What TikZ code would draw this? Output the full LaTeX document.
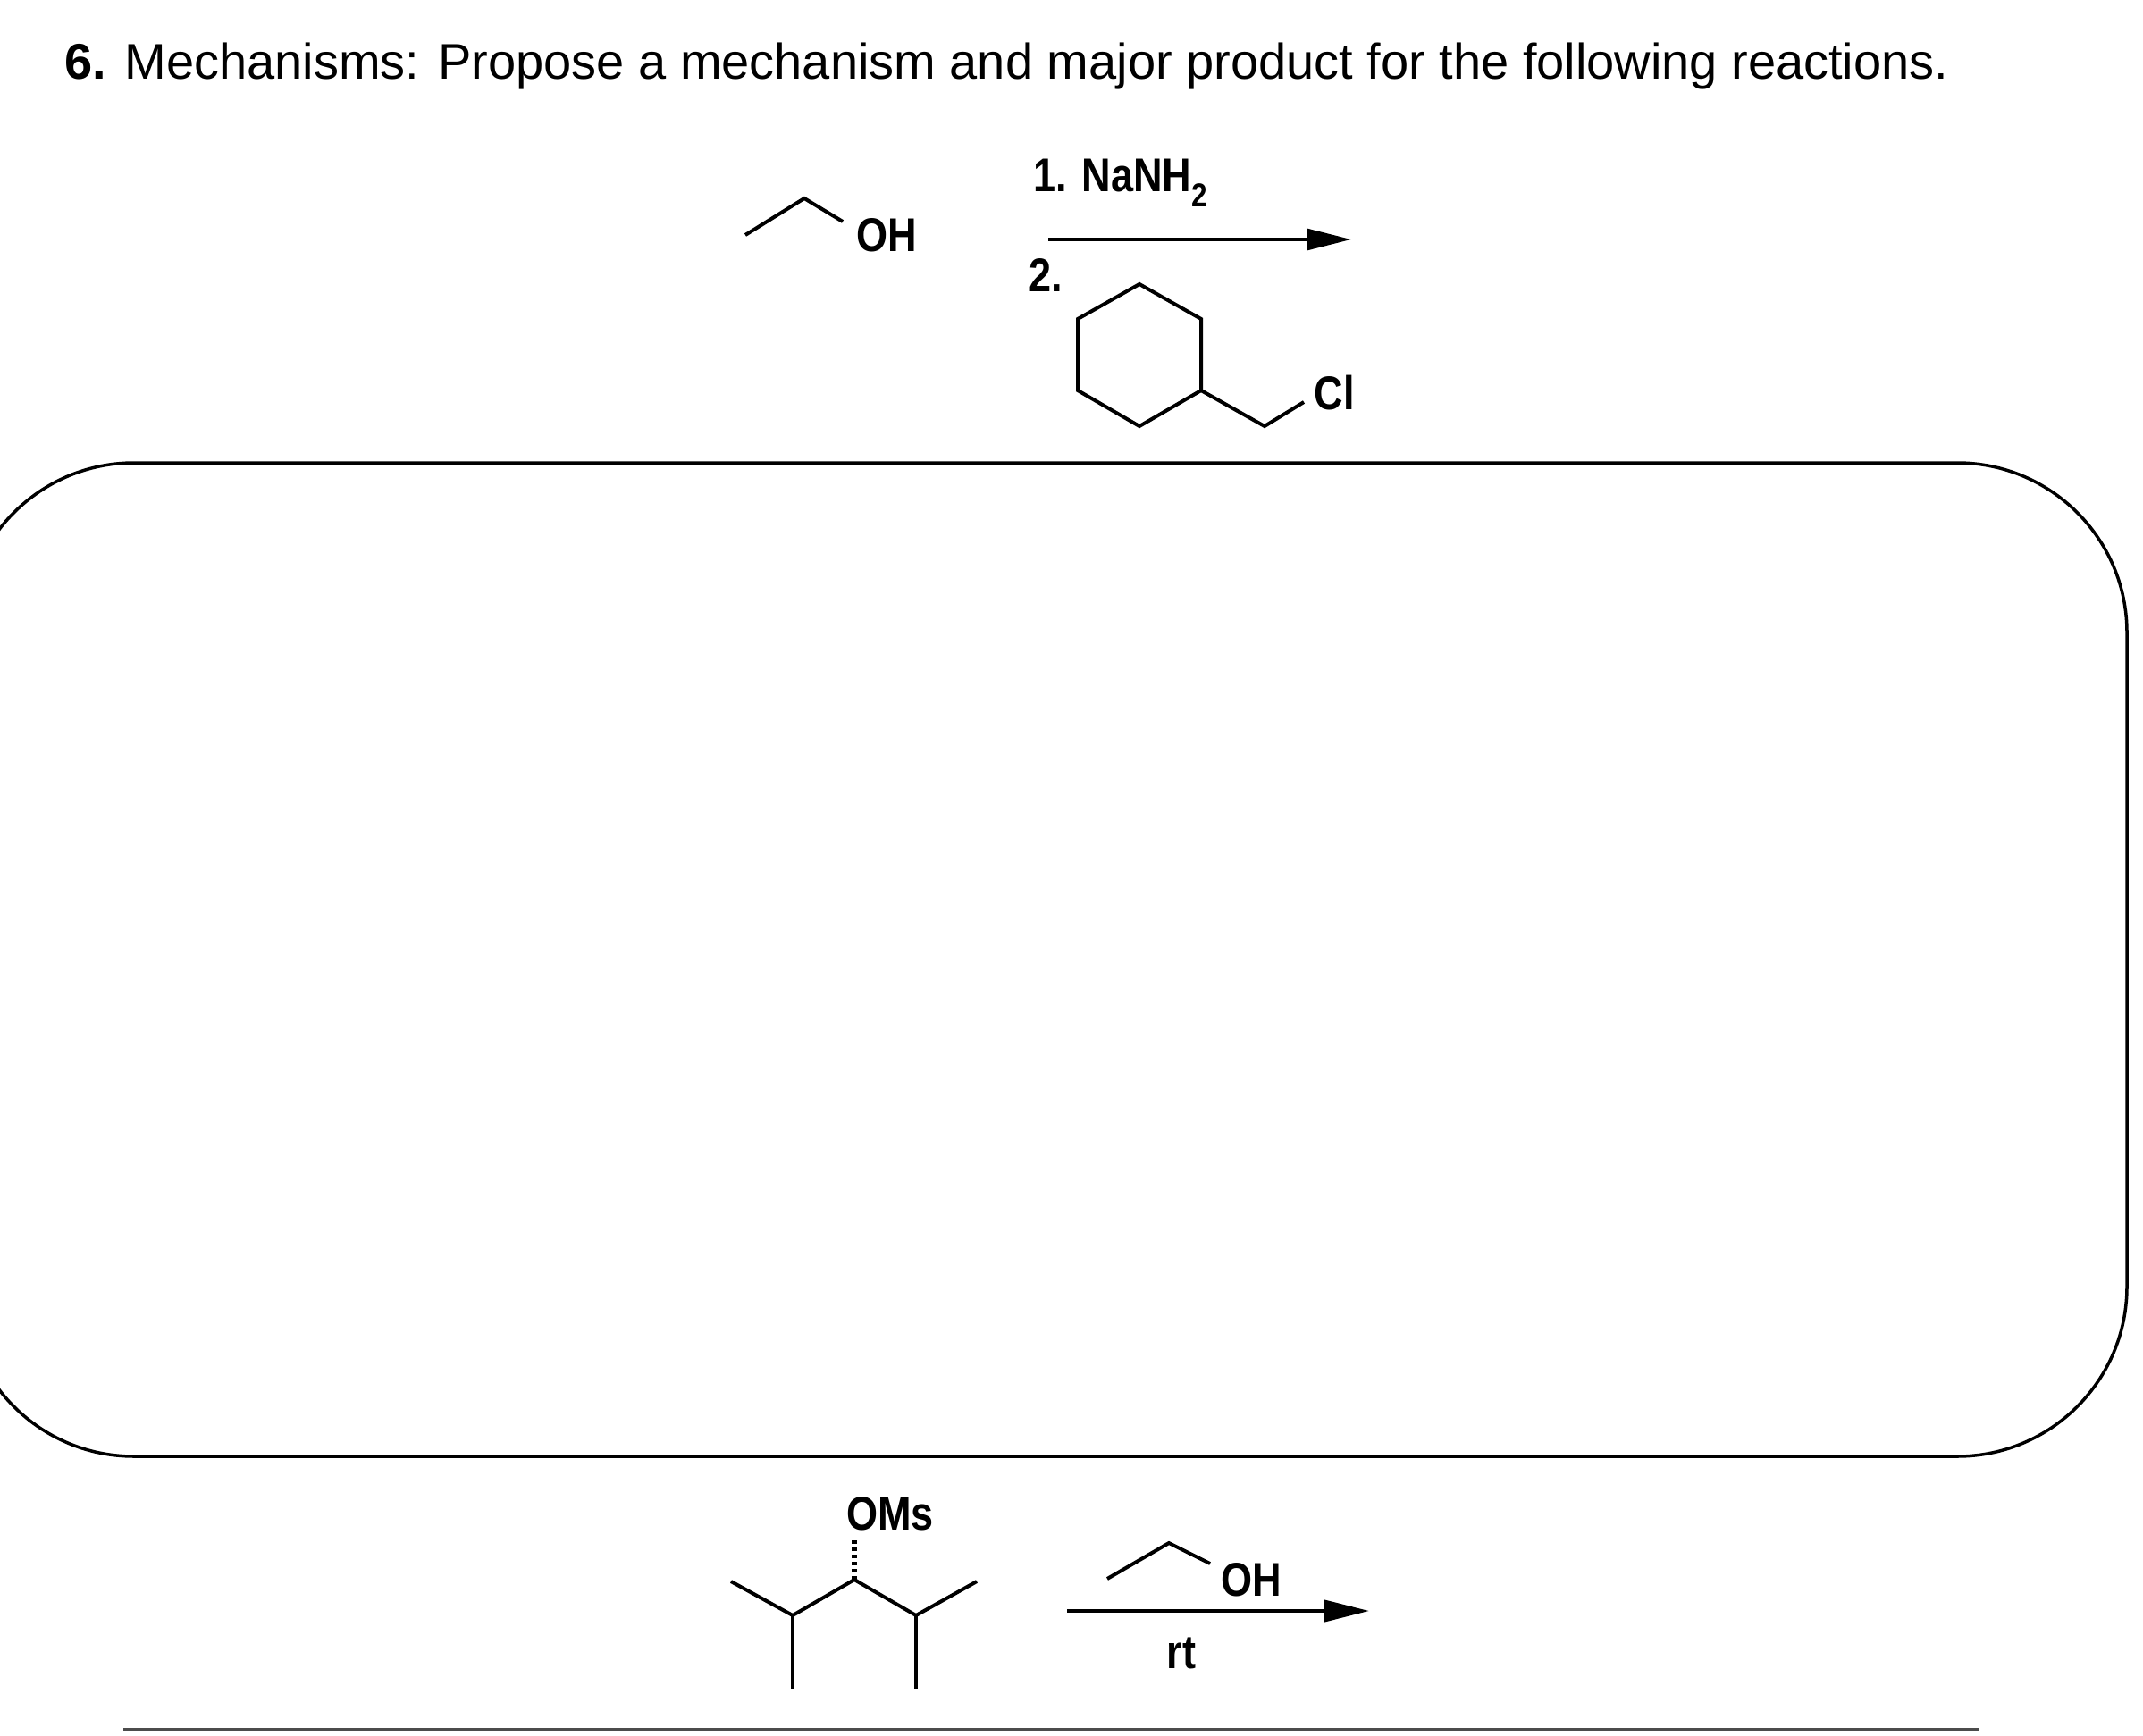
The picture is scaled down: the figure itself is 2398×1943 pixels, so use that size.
\documentclass[tikz,border=0pt]{standalone}
\usepackage{fontspec}
\setmainfont{Liberation Sans}
\usetikzlibrary{arrows.meta}
\newcommand{\narrowtxt}[1]{\scalebox{0.85}[1]{#1}}
\begin{document}
\begin{tikzpicture}[x=1pt,y=-1pt,
  bond/.style={line width=4pt,line join=miter},
  lab/.style={inner sep=0pt,font=\fontsize{53}{56}\selectfont\bfseries},
  rxn/.style={line width=4pt,-{Triangle[length=50pt,width=24pt]}}]
\useasboundingbox (0,0) rectangle (2398,1943);
\node[anchor=west,inner sep=0pt,font=\fontsize{56}{60}\selectfont] (title) at (72,74) {\textbf{6.} Mechanisms: Propose a mechanism and major product for the following reactions.};
% reaction 1
\coordinate (e1) at (834,263); \coordinate (e2) at (900,222); \coordinate (e3) at (943,248);
\node[lab] (oh1) at (992,263) {\narrowtxt{OH}};
\draw[bond] (e1) -- (e2) -- (e3);
\coordinate (a1s) at (1173,268); \coordinate (a1e) at (1512,268);
\draw[rxn] (a1s) -- (a1e);
\node[lab] (na) at (1254,205) {\narrowtxt{1. NaNH\textsubscript{2}}};
\node[lab] (two) at (1170,308) {\narrowtxt{2.}};
\coordinate (h1) at (1275,318); \coordinate (h2) at (1344,357); \coordinate (h3) at (1344,437);
\coordinate (h4) at (1275,477); \coordinate (h5) at (1206,437); \coordinate (h6) at (1206,357);
\coordinate (c7) at (1415,477); \coordinate (c8) at (1459,450);
\draw[bond] (h1) -- (h2) -- (h3) -- (h4) -- (h5) -- (h6) -- cycle;
\draw[bond] (h3) -- (c7) -- (c8);
\node[lab] (cl) at (1493,440) {\narrowtxt{Cl}};
% answer box
\draw[line width=3.5pt,rounded corners=190pt] (-40,518) rectangle (2380,1630);
% reaction 2
\coordinate (m3) at (956,1768); \coordinate (ml) at (887,1808); \coordinate (mlm) at (818,1770);
\coordinate (mld) at (887,1890); \coordinate (mr) at (1025,1808); \coordinate (mrm) at (1093,1770);
\coordinate (mrd) at (1025,1890);
\draw[bond] (mlm) -- (ml) -- (m3) -- (mr) -- (mrm);
\draw[bond] (ml) -- (mld); \draw[bond] (mr) -- (mrd);
\node[lab] (oms) at (996,1694) {\narrowtxt{OMs}};
\draw[line width=6pt,dash pattern=on 4pt off 4pt] (m3) -- (956,1722);
\coordinate (b1) at (1239,1767); \coordinate (b2) at (1308,1727); \coordinate (b3) at (1354,1750);
\draw[bond] (b1) -- (b2) -- (b3);
\node[lab] (oh2) at (1400,1768) {\narrowtxt{OH}};
\coordinate (a2s) at (1194,1803); \coordinate (a2e) at (1532,1803);
\draw[rxn] (a2s) -- (a2e);
\node[lab] (rt) at (1322,1850) {\narrowtxt{rt}};
\coordinate (l1) at (138,1935); \coordinate (l2) at (2214,1935);
\draw[line width=3pt,black!70] (l1) -- (l2);
\end{tikzpicture}
\end{document}
